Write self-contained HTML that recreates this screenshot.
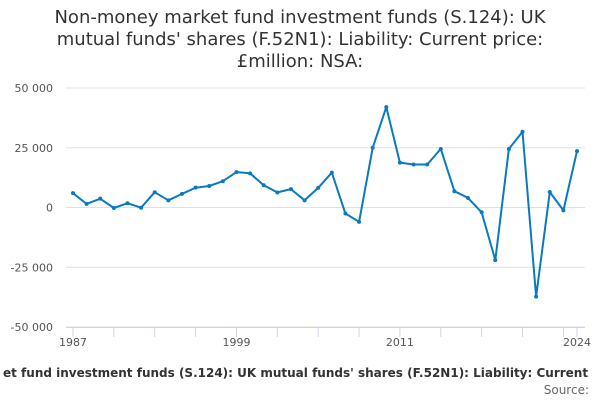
<!DOCTYPE html>
<html><head><meta charset="utf-8"><style>
body{margin:0;width:600px;height:400px;background:#fff;font-family:"DejaVu Sans",sans-serif;overflow:hidden;position:relative}
#title{position:absolute;left:0;top:7px;width:600px;text-align:center;font-size:18px;line-height:22px;color:#333}
#legend{position:absolute;left:3px;top:366px;white-space:nowrap;font-size:12px;font-weight:bold;color:#333}
#source{position:absolute;right:11px;top:383px;font-size:12px;color:#666}
</style></head><body>
<div id="title">Non-money market fund investment funds (S.124): UK<br>mutual funds' shares (F.52N1): Liability: Current price:<br>£million: NSA:</div>
<svg id="chart" width="600" height="400" style="position:absolute;left:0;top:0"></svg>
<div id="legend">et fund investment funds (S.124): UK mutual funds' shares (F.52N1): Liability: Current</div>
<div id="source">Source:</div>
<script>
const years=[1987,1988,1989,1990,1991,1992,1993,1994,1995,1996,1997,1998,1999,2000,2001,2002,2003,2004,2005,2006,2007,2008,2009,2010,2011,2012,2013,2014,2015,2016,2017,2018,2019,2020,2021,2022,2023,2024];
const values=[6000,1500,3700,-200,1800,-100,6400,3000,5700,8300,9000,11000,14800,14300,9300,6300,7700,3000,8200,14600,-2500,-6000,25000,42000,18800,18000,18000,24500,6800,4000,-2000,-22000,24500,31700,-37300,6500,-1200,23600];
const yTicks=[50000,25000,0,-25000,-50000];
const yTickLabels=["50 000","25 000","0","-25 000","-50 000"];
const xLabels=[1987,1999,2011,2024];
const NS="http://www.w3.org/2000/svg";
const svg=document.getElementById('chart');
const x0=73,x1=577,yTop=88,yBot=327;
function xs(y){return x0+(y-1987)/(2024-1987)*(x1-x0);}
function ys(v){return yTop+(50000-v)/100000*(yBot-yTop);}
function mk(t,a){const e=document.createElementNS(NS,t);for(const k in a)e.setAttribute(k,a[k]);svg.appendChild(e);return e;}
yTicks.forEach((v,i)=>{
  const g=mk('line',{x1:66,x2:585,y1:ys(v),y2:ys(v),stroke:'#e0e0e0','stroke-width':1});
  
  
  const t=mk('text',{x:53,y:ys(v)+4,'text-anchor':'end','font-size':11,fill:'#555','font-family':'DejaVu Sans, sans-serif'});
  t.textContent=yTickLabels[i];
  
  
});
const ax=mk('line',{x1:66,x2:585,y1:yBot+0.5,y2:yBot+0.5,stroke:'#ccd6eb','stroke-width':1});


const tickYears=[1987,1990,1993,1996,1999,2002,2005,2008,2011,2014,2017,2020,2023,2024];
tickYears.forEach(y=>{
  const l=mk('line',{x1:xs(y),x2:xs(y),y1:yBot,y2:yBot+10,stroke:'#ccd6eb','stroke-width':1});
  
  
});
xLabels.forEach(y=>{
  const t=mk('text',{x:xs(y),y:yBot+19,'text-anchor':'middle','font-size':11,fill:'#555','font-family':'DejaVu Sans, sans-serif'});
  t.textContent=y;
  
  
});
const pts=years.map((y,i)=>xs(y).toFixed(1)+','+ys(values[i]).toFixed(1)).join(' ');
const pl=mk('polyline',{points:pts,fill:'none',stroke:'#0a7abf','stroke-width':2,'stroke-linejoin':'round'});


years.forEach((y,i)=>{
  const c=mk('circle',{cx:xs(y),cy:ys(values[i]),r:2,fill:'#0a7abf'});
  
  
});
</script>
</body></html>
